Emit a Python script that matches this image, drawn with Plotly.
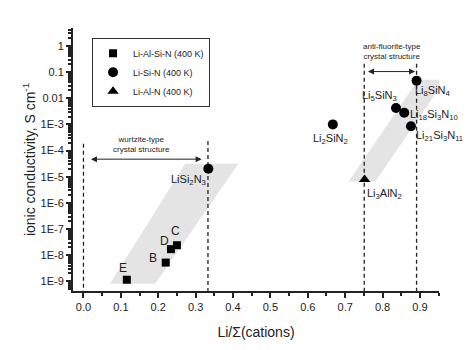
import plotly.graph_objects as go

# ---- data ----
alsin_x = [0.116, 0.220, 0.234, 0.250]
alsin_y = [1.15e-9, 5.2e-9, 1.7e-8, 2.4e-8]
alsin_lbl = ["E", "B", "D", "C"]

sin_names = ["LiSi<sub>2</sub>N<sub>3</sub>", "Li<sub>2</sub>SiN<sub>2</sub>", "Li<sub>5</sub>SiN<sub>3</sub>",
             "Li<sub>18</sub>Si<sub>3</sub>N<sub>10</sub>", "Li<sub>21</sub>Si<sub>3</sub>N<sub>11</sub>",
             "Li<sub>8</sub>SiN<sub>4</sub>"]
sin_x = [0.334, 0.667, 0.836, 0.858, 0.876, 0.891]
sin_y = [2.0e-5, 1.0e-3, 4.2e-3, 2.8e-3, 8.5e-4, 4.7e-2]

aln_names = ["Li<sub>3</sub>AlN<sub>2</sub>"]
aln_x = [0.752]
aln_y = [7.9e-6]

# shaded bands (corner points)
band1_x = [0.071, 0.192, 0.414, 0.272, 0.071]
band1_y = [8.1e-10, 8.1e-10, 3.1e-5, 3.1e-5, 8.1e-10]
band2_x = [0.709, 0.781, 0.967, 0.895, 0.709]
band2_y = [6.5e-6, 6.5e-6, 5.1e-2, 5.1e-2, 6.5e-6]

# dashed boundaries (x, top y)
vlines_x = [0.0, 0.333, 0.751, 0.891]
vlines_top = [1.8e-4, 2.3e-4, 0.21, 0.21]

ytick_vals = [1e-9, 1e-8, 1e-7, 1e-6, 1e-5, 1e-4, 1e-3, 1e-2, 1e-1, 1]
ytick_text = ["1E-9", "1E-8", "1E-7", "1E-6", "1E-5", "1E-4", "1E-3", "0.01", "0.1", "1"]
xtick_vals = [0.0, 0.1, 0.2, 0.3, 0.4, 0.5, 0.6, 0.7, 0.8, 0.9]
xtick_text = ["0.0", "0.1", "0.2", "0.3", "0.4", "0.5", "0.6", "0.7", "0.8", "0.9"]

FONT = "Liberation Sans, Arial, sans-serif"
fig = go.Figure()

for bx, by in [(band1_x, band1_y), (band2_x, band2_y)]:
    fig.add_trace(go.Scatter(x=bx, y=by, fill="toself", fillcolor="#e4e4e4",
                             line=dict(width=0), mode="lines", showlegend=False, hoverinfo="skip"))

for vx, vt in zip(vlines_x, vlines_top):
    fig.add_trace(go.Scatter(x=[vx, vx], y=[vt, 1e-10], mode="lines",
                             line=dict(color="#222", width=1.3, dash="4px,3px"),
                             showlegend=False, hoverinfo="skip"))

fig.add_trace(go.Scatter(x=alsin_x, y=alsin_y, mode="markers", name="Li-Al-Si-N (400 K)",
                         marker=dict(symbol="square", size=8, color="black")))
fig.add_trace(go.Scatter(x=sin_x, y=sin_y, mode="markers", name="Li-Si-N (400 K)",
                         marker=dict(symbol="circle", size=10, color="black")))
fig.add_trace(go.Scatter(x=aln_x, y=aln_y, mode="markers", name="Li-Al-N (400 K)",
                         marker=dict(symbol="triangle-up", size=10, color="black")))

ann = []
# letter labels
for (lx, ly), t in zip([(0.107, -8.49), (0.187, -8.12), (0.216, -7.44), (0.245, -7.07)], alsin_lbl):
    ann.append(dict(x=lx, y=ly, text=t, showarrow=False, font=dict(size=12, color="#222", family=FONT)))
# compound labels
lbl_pos = [(0.281, -5.12), (0.661, -3.57), (0.793, -1.90), (0.938, -2.64), (0.951, -3.46), (0.936, -1.72)]
for (lx, ly), t in zip(lbl_pos, sin_names):
    ann.append(dict(x=lx, y=ly, text=t, showarrow=False, font=dict(size=11, color="#222", family=FONT)))
ann.append(dict(x=0.806, y=-5.68, text=aln_names[0], showarrow=False,
                font=dict(size=11, color="#222", family=FONT)))
# structure texts
ann.append(dict(x=0.156, y=-3.75, text="wurtzite-type<br>crystal structure", showarrow=False,
                font=dict(size=8, color="#222", family=FONT)))
ann.append(dict(x=0.824, y=-0.2, text="anti-fluorite-type<br>crystal structure", showarrow=False,
                font=dict(size=8, color="#222", family=FONT)))
# double arrows
for x0, x1, ly in [(0.016, 0.316, -4.33), (0.757, 0.887, -0.98)]:
    ann.append(dict(x=x1, y=ly, ax=x0, ay=ly, xref="x", yref="y", axref="x", ayref="y",
                    text="", showarrow=True, arrowhead=2, arrowside="end+start",
                    arrowsize=1.2, arrowwidth=1, arrowcolor="#222"))

minor_y = [k * 10 ** n for n in range(-10, 1) for k in range(2, 10)]

fig.update_layout(
    width=474, height=350,
    margin=dict(l=73, r=35, t=28, b=50),
    plot_bgcolor="white", paper_bgcolor="white",
    font=dict(family=FONT, color="#222"),
    annotations=ann,
    legend=dict(x=0.052, y=0.963, xanchor="left", yanchor="top",
                bordercolor="#333", borderwidth=1, bgcolor="white",
                font=dict(size=9, family=FONT, color="#222"),
                tracegroupgap=0, itemwidth=30),
    xaxis=dict(range=[-0.028, 0.951], showgrid=False, zeroline=False,
               showline=True, linecolor="#222", linewidth=2,
               ticks="outside", ticklen=5, tickwidth=1.5, tickcolor="#222",
               tickvals=xtick_vals, ticktext=xtick_text,
               minor=dict(ticks="outside", ticklen=3, tickcolor="#222", dtick=0.05, tick0=0),
               tickfont=dict(size=11, family=FONT, color="#222"),
               title=dict(text="Li/Σ(cations)", font=dict(size=14, family=FONT, color="#222"), standoff=15)),
    yaxis=dict(type="log", range=[-9.37, 0.685], showgrid=False, zeroline=False,
               showline=True, linecolor="#222", linewidth=2,
               ticks="outside", ticklen=5, tickwidth=1.5, tickcolor="#222",
               tickvals=ytick_vals, ticktext=ytick_text,
               minor=dict(ticks="outside", ticklen=3, tickcolor="#222", tickvals=minor_y),
               tickfont=dict(size=11, family=FONT, color="#222"),
               title=dict(text="ionic conductivity, S cm<sup>-1</sup>",
                          font=dict(size=14, family=FONT, color="#222"), standoff=2)),
)

fig.write_html("out.html")
